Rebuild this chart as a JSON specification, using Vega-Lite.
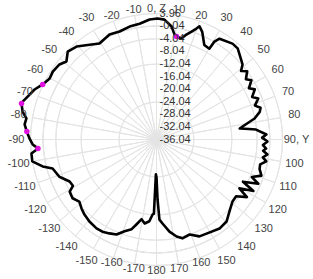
{
  "$schema": "https://vega.github.io/schema/vega-lite/v6.json",
  "width": 313,
  "height": 279,
  "autosize": "none",
  "padding": 0,
  "background": "white",
  "config": {"view": {"stroke": null}, "font": "Liberation Sans"},
  "datasets": {
    "spokes": [
      {"a": -180, "b": -170}, {"a": -170, "b": -160}, {"a": -160, "b": -150}, {"a": -150, "b": -140},
      {"a": -140, "b": -130}, {"a": -130, "b": -120}, {"a": -120, "b": -110}, {"a": -110, "b": -100},
      {"a": -100, "b": -90}, {"a": -90, "b": -80}, {"a": -80, "b": -70}, {"a": -70, "b": -60},
      {"a": -60, "b": -50}, {"a": -50, "b": -40}, {"a": -40, "b": -30}, {"a": -30, "b": -20},
      {"a": -20, "b": -10}, {"a": -10, "b": 0}, {"a": 0, "b": 10}, {"a": 10, "b": 20},
      {"a": 20, "b": 30}, {"a": 30, "b": 40}, {"a": 40, "b": 50}, {"a": 50, "b": 60},
      {"a": 60, "b": 70}, {"a": 70, "b": 80}, {"a": 80, "b": 90}, {"a": 90, "b": 100},
      {"a": 100, "b": 110}, {"a": 110, "b": 120}, {"a": 120, "b": 130}, {"a": 130, "b": 140},
      {"a": 140, "b": 150}, {"a": 150, "b": 160}, {"a": 160, "b": 170}, {"a": 170, "b": 180}
    ],
    "rings": [
      {"v": 3.96, "lab": "3.96"}, {"v": -0.04, "lab": "-0.04"}, {"v": -4.04, "lab": "-4.04"},
      {"v": -8.04, "lab": "-8.04"}, {"v": -12.04, "lab": "-12.04"}, {"v": -16.04, "lab": "-16.04"},
      {"v": -20.04, "lab": "-20.04"}, {"v": -24.04, "lab": "-24.04"}, {"v": -28.04, "lab": "-28.04"},
      {"v": -32.04, "lab": "-32.04"}, {"v": -36.04, "lab": "-36.04"}
    ],
    "angles": [
      {"a": -170, "lab": "-170"}, {"a": -160, "lab": "-160"}, {"a": -150, "lab": "-150"},
      {"a": -140, "lab": "-140"}, {"a": -130, "lab": "-130"}, {"a": -120, "lab": "-120"},
      {"a": -110, "lab": "-110"}, {"a": -100, "lab": "-100"}, {"a": -90, "lab": "-90"},
      {"a": -80, "lab": "-80"}, {"a": -70, "lab": "-70"}, {"a": -60, "lab": "-60"},
      {"a": -50, "lab": "-50"}, {"a": -40, "lab": "-40"}, {"a": -30, "lab": "-30"},
      {"a": -20, "lab": "-20"}, {"a": -10, "lab": "-10"}, {"a": 0, "lab": "0, Z"},
      {"a": 10, "lab": "10"}, {"a": 20, "lab": "20"}, {"a": 30, "lab": "30"},
      {"a": 40, "lab": "40"}, {"a": 50, "lab": "50"}, {"a": 60, "lab": "60"},
      {"a": 70, "lab": "70"}, {"a": 80, "lab": "80"}, {"a": 90, "lab": "90, Y"},
      {"a": 100, "lab": "100"}, {"a": 110, "lab": "110"}, {"a": 120, "lab": "120"},
      {"a": 130, "lab": "130"}, {"a": 140, "lab": "140"}, {"a": 150, "lab": "150"},
      {"a": 160, "lab": "160"}, {"a": 170, "lab": "170"}, {"a": 180, "lab": "180"}
    ],
    "curve": [
      {"a": -180, "v": -24}, {"a": -179, "v": -25}, {"a": -178, "v": -12.5}, {"a": -177, "v": -12.2},
      {"a": -175, "v": -10}, {"a": -172, "v": -9.1}, {"a": -169.4, "v": -10.3}, {"a": -166.8, "v": -8.4},
      {"a": -164.5, "v": -6.5}, {"a": -160.8, "v": -5.2}, {"a": -157.2, "v": -3.3}, {"a": -153.4, "v": -2.7},
      {"a": -149.6, "v": -2.1}, {"a": -146, "v": -2.0}, {"a": -140.7, "v": -2.4}, {"a": -136.2, "v": -3.0},
      {"a": -132.6, "v": -3.7}, {"a": -128.8, "v": -4.6}, {"a": -125, "v": -3.5}, {"a": -121, "v": -3.9},
      {"a": -119, "v": -5.7}, {"a": -115.8, "v": -5.4}, {"a": -111, "v": -3.0}, {"a": -105.6, "v": -1.8},
      {"a": -103.3, "v": 1.1}, {"a": -100, "v": 4.0}, {"a": -96.4, "v": 3.9}, {"a": -94.3, "v": 1.7, "m": 1},
      {"a": -92.3, "v": 3.3}, {"a": -89.5, "v": 4.3}, {"a": -86.5, "v": 5.2, "m": 1}, {"a": -83.5, "v": 6.1},
      {"a": -80.8, "v": 5.8}, {"a": -78.2, "v": 7.4}, {"a": -75.1, "v": 8.3, "m": 1}, {"a": -74.2, "v": 8.1},
      {"a": -70.5, "v": 6.7}, {"a": -67.7, "v": 5.8}, {"a": -64.2, "v": 4.1, "m": 1}, {"a": -60.3, "v": 3.0},
      {"a": -56.8, "v": 3.3}, {"a": -52.3, "v": 2.9}, {"a": -49.1, "v": 1.8}, {"a": -45.3, "v": 3.6},
      {"a": -40.7, "v": 2.9}, {"a": -35.2, "v": 0.8}, {"a": -30.7, "v": -0.6}, {"a": -24.1, "v": 0.5},
      {"a": -18.9, "v": 0.2}, {"a": -13.4, "v": 0.8}, {"a": -8.3, "v": 1.1}, {"a": -3.3, "v": 2.1},
      {"a": 0.5, "v": 2.4}, {"a": 3.8, "v": 2.1}, {"a": 7.6, "v": 0.15}, {"a": 9.7, "v": -2.2},
      {"a": 11, "v": -2.7, "m": 1}, {"a": 13.9, "v": -3.0}, {"a": 15.9, "v": -1.4}, {"a": 18, "v": 0},
      {"a": 19.8, "v": 1.4}, {"a": 20.8, "v": 2.4}, {"a": 23, "v": 1.1}, {"a": 26.8, "v": -2.4},
      {"a": 30.2, "v": -2.7}, {"a": 30.6, "v": 0.1}, {"a": 32, "v": 1.7}, {"a": 38.4, "v": 2.8},
      {"a": 41.7, "v": 2.7}, {"a": 44.3, "v": 1.7}, {"a": 48.9, "v": 0.2}, {"a": 51, "v": -1.5},
      {"a": 53, "v": 0}, {"a": 56, "v": -1.8}, {"a": 58, "v": -0.5}, {"a": 61, "v": -2.5},
      {"a": 63, "v": -1.0}, {"a": 66, "v": -2.8}, {"a": 68, "v": -1.2}, {"a": 71, "v": -3.0},
      {"a": 73, "v": -1.5}, {"a": 75, "v": -2.1}, {"a": 77.9, "v": -4.2}, {"a": 81.4, "v": -8.4},
      {"a": 82.5, "v": -9.4}, {"a": 83.5, "v": -6.5}, {"a": 84.3, "v": -4.3}, {"a": 87.4, "v": -1.1},
      {"a": 89, "v": -2.5}, {"a": 91, "v": -0.8}, {"a": 93, "v": -2.2}, {"a": 94.7, "v": -1.1},
      {"a": 96, "v": -2.0}, {"a": 97.7, "v": -0.5}, {"a": 99.5, "v": -1.8}, {"a": 101.3, "v": -0.5},
      {"a": 103.5, "v": -2.2}, {"a": 106, "v": -2.0}, {"a": 109, "v": -0.8}, {"a": 111.5, "v": -3.5},
      {"a": 113.5, "v": -0.8}, {"a": 116, "v": -5.5}, {"a": 118, "v": -1.2}, {"a": 120.5, "v": -5.5},
      {"a": 122.5, "v": -2.0}, {"a": 125.5, "v": -5.0},
      {"a": 129.2, "v": -4.9}, {"a": 134.6, "v": -3.5}, {"a": 139.5, "v": -1.8}, {"a": 144.7, "v": -1.4},
      {"a": 152, "v": -2.2}, {"a": 156.1, "v": -2.4}, {"a": 160.8, "v": -4.1}, {"a": 165.3, "v": -3.6},
      {"a": 168.3, "v": -4.6}, {"a": 172, "v": -6.5}, {"a": 175.9, "v": -9.3}, {"a": 177.9, "v": -10.6},
      {"a": 179, "v": -17}, {"a": 180, "v": -24}
    ]
  },
  "layer": [
    {
      "data": {"name": "spokes"},
      "mark": {"type": "arc", "radius": 126, "fill": "white", "fillOpacity": 0, "stroke": "#e4e4e4", "strokeWidth": 1},
      "encoding": {
        "theta": {"field": "a", "type": "quantitative", "stack": null, "scale": {"domain": [-180, 180], "range": [-3.14159265, 3.14159265]}},
        "theta2": {"field": "b"}
      }
    },
    {
      "data": {"name": "rings"},
      "transform": [{"filter": "datum.v > -36"}],
      "mark": {"type": "arc", "theta": 0, "theta2": 6.2832, "fill": "white", "fillOpacity": 0, "stroke": "#e4e4e4", "strokeWidth": 1},
      "encoding": {
        "radius": {"field": "v", "type": "quantitative", "scale": {"type": "linear", "domain": [-36.04, 3.96], "range": [0, 126], "zero": false}}
      }
    },
    {
      "data": {"name": "curve"},
      "transform": [
        {"calculate": "datum.v + 36.04", "as": "rr"},
        {"calculate": "datum.rr * sin(datum.a * PI / 180)", "as": "x"},
        {"calculate": "datum.rr * cos(datum.a * PI / 180)", "as": "y"}
      ],
      "mark": {"type": "line", "color": "black", "strokeWidth": 2.6, "strokeJoin": "round"},
      "encoding": {
        "x": {"field": "x", "type": "quantitative", "axis": null, "scale": {"domain": [-49.683, 49.683], "nice": false, "zero": false}},
        "y": {"field": "y", "type": "quantitative", "axis": null, "scale": {"domain": [-44.286, 44.286], "nice": false, "zero": false}},
        "order": {"field": "a", "type": "quantitative"}
      }
    },
    {
      "data": {"name": "curve"},
      "transform": [
        {"filter": "datum.m == 1"},
        {"calculate": "datum.v + 36.04", "as": "rr"},
        {"calculate": "datum.rr * sin(datum.a * PI / 180)", "as": "x"},
        {"calculate": "datum.rr * cos(datum.a * PI / 180)", "as": "y"}
      ],
      "mark": {"type": "point", "filled": true, "color": "#e010e0", "opacity": 1, "size": 30},
      "encoding": {
        "x": {"field": "x", "type": "quantitative"},
        "y": {"field": "y", "type": "quantitative"}
      }
    },
    {
      "data": {"name": "rings"},
      "mark": {"type": "text", "align": "left", "baseline": "middle", "dx": 3, "fontSize": 11, "color": "#333333", "theta": 0},
      "encoding": {
        "radius": {"field": "v", "type": "quantitative"},
        "text": {"field": "lab", "type": "nominal"}
      }
    },
    {
      "data": {"name": "angles"},
      "transform": [{"filter": "abs(datum.a) <= 20 || abs(datum.a) >= 160"}],
      "mark": {"type": "text", "align": "center", "baseline": "middle", "fontSize": 11, "color": "#444444", "radius": 131},
      "encoding": {
        "theta": {"field": "a", "type": "quantitative", "stack": null},
        "text": {"field": "lab", "type": "nominal"}
      }
    },
    {
      "data": {"name": "angles"},
      "transform": [{"filter": "abs(datum.a) > 20 && abs(datum.a) < 160"}],
      "mark": {"type": "text", "align": "center", "baseline": "middle", "fontSize": 11, "color": "#444444", "radius": 140},
      "encoding": {
        "theta": {"field": "a", "type": "quantitative", "stack": null},
        "text": {"field": "lab", "type": "nominal"}
      }
    }
  ]
}
